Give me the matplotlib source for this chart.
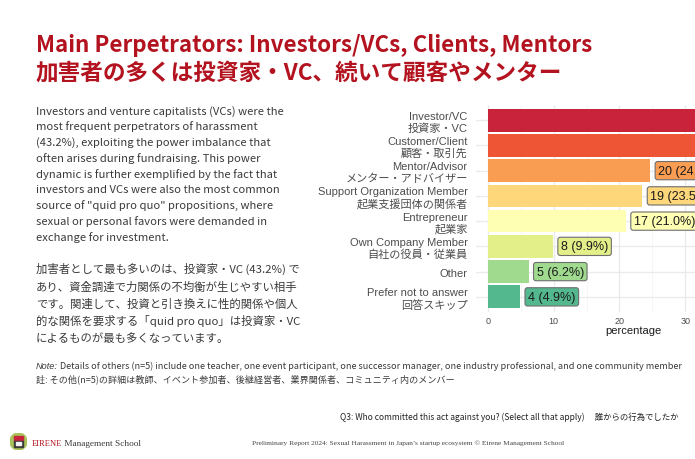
import matplotlib
matplotlib.use("Agg")
import matplotlib.pyplot as plt
from matplotlib.patches import Ellipse, Rectangle

# ---------------- data ----------------
categories = [
    "Investor/VC\n投資家・VC",
    "Customer/Client\n顧客・取引先",
    "Mentor/Advisor\nメンター・アドバイザー",
    "Support Organization Member\n起業支援団体の関係者",
    "Entrepreneur\n起業家",
    "Own Company Member\n自社の役員・従業員",
    "Other",
    "Prefer not to answer\n回答スキップ",
]
counts = [35, 28, 20, 19, 17, 8, 5, 4]
percentages = [43.2, 34.6, 24.7, 23.5, 21.0, 9.9, 6.2, 4.9]
bar_colors = ["#C9233B", "#EE5535", "#F99D52", "#FDD77A", "#FFFFB4",
              "#E3EF88", "#A0DA8F", "#54B88F"]
x_ticks = [0, 10, 20, 30, 40]

title_en = "Main Perpetrators: Investors/VCs, Clients, Mentors"
title_ja = "加害者の多くは投資家・VC、続いて顧客やメンター"
body_en = [
    "Investors and venture capitalists (VCs) were the",
    "most frequent perpetrators of harassment",
    "(43.2%), exploiting the power imbalance that",
    "often arises during fundraising. This power",
    "dynamic is further exemplified by the fact that",
    "investors and VCs were also the most common",
    "source of \"quid pro quo\" propositions, where",
    "sexual or personal favors were demanded in",
    "exchange for investment.",
]
body_ja = [
    "加害者として最も多いのは、投資家・VC (43.2%) で",
    "あり、資金調達で力関係の不均衡が生じやすい相手",
    "です。関連して、投資と引き換えに性的関係や個人",
    "的な関係を要求する「quid pro quo」は投資家・VC",
    "によるものが最も多くなっています。",
]
note_label = "Note:"
note_en = " Details of others (n=5) include one teacher, one event participant, one successor manager, one industry professional, and one community member"
note_ja = "註: その他(n=5)の詳細は教師、イベント参加者、後継経営者、業界関係者、コミュニティ内のメンバー"
question = "Q3: Who committed this act against you? (Select all that apply)\u3000 誰からの行為でしたか"
footer_center = "Preliminary Report 2024: Sexual Harassment in Japan\u2019s startup ecosystem \u00a9 Eirene Management School"

# ---------------- figure ----------------
W, H = 695, 460
fig = plt.figure(figsize=(W / 100, H / 100), dpi=100)
fig.patch.set_facecolor("white")
renderer = fig.canvas.get_renderer()

JP = ["Noto Sans CJK JP", "DejaVu Sans"]
SANS = ["Liberation Sans", "Noto Sans CJK JP", "DejaVu Sans"]


def fx(px):
    return px / W


def fy(py):
    return 1 - py / H


def fit_size(s, width_px, **kw):
    t = fig.text(0, 0, s, fontsize=10, **kw)
    w = t.get_window_extent(renderer).width
    t.remove()
    return 10 * width_px / w


def put(x, y, s, size, **kw):
    return fig.text(fx(x), fy(y), s, fontsize=size, va="baseline", ha="left", **kw)


# title
red = "#B3121F"
s1 = fit_size(title_en, 557, family=JP, weight="bold")
put(36, 52, title_en, s1, family=JP, weight="bold", color=red)
s2 = fit_size(title_ja, 525, family=JP, weight="bold")
put(36, 79.5, title_ja, s2, family=JP, weight="bold", color=red)

# body
body_color = "#3A3A3A"
sb = fit_size(body_en[0], 247, family=JP)
for i, line in enumerate(body_en):
    put(36, 110.7 + 4 + i * 15.75, line, sb, family=JP, color=body_color)
sj = fit_size(body_ja[1], 261, family=JP)
for i, line in enumerate(body_ja):
    put(36, 269 + 4.3 + i * 17.2, line, sj, family=JP, color=body_color)

# note
sn = 6.6
tl = put(36, 369, note_label, sn, family=["Liberation Sans", "DejaVu Sans"],
         style="italic", color=body_color)
wl = tl.get_window_extent(renderer).width
sn2 = fit_size(note_en, 643 - wl, family=JP)
put(36 + wl, 369, note_en, sn2, family=JP, color=body_color)
snj = fit_size(note_ja, 416, family=JP)
put(36, 382.5, note_ja, snj, family=JP, color=body_color)

# question
sq = fit_size(question, 340, family=JP)
put(340, 420.5, question, sq, family=JP, color="#222222")

# footer
SERIF = ["Liberation Serif", "DejaVu Serif"]
fe = fit_size("EIRENE Management School", 112, family=SERIF)
te = put(32, 446, "EIRENE", fe * 0.92, family=SERIF, color="#B3121F")
we = te.get_window_extent(renderer).width
put(32 + we, 446, " Management School", fe, family=SERIF, color="#3A3A3A")
sf = fit_size(footer_center, 311, family=SERIF)
put(252, 445, footer_center, sf, family=SERIF, color="#444444")

# logo
lax = fig.add_axes([fx(10), fy(451), fx(17), 17 / H])
lax.set_xlim(0, 1)
lax.set_ylim(0, 1)
lax.axis("off")
lax.add_patch(Ellipse((0.5, 0.5), 1.0, 1.0, color="#A8C25A"))
lax.add_patch(Rectangle((0.22, 0.55), 0.56, 0.3, color="#C9233B"))
lax.add_patch(Rectangle((0.25, 0.18), 0.5, 0.37, color="#3A3A3A"))
lax.add_patch(Rectangle((0.35, 0.28), 0.3, 0.17, color="#F2F2F2"))

# ---------------- chart ----------------
px_left, px_right, px_top, px_bottom = 476, 791, 106, 313
ax = fig.add_axes([fx(px_left), fy(px_bottom), (px_right - px_left) / W,
                   (px_bottom - px_top) / H])
ax.set_facecolor("white")
ypos = list(range(len(categories)))
ax.barh(ypos, percentages, height=0.9, color=bar_colors, zorder=2)
ax.set_xlim(-1.83, 46.1)
ax.set_ylim(len(categories) - 0.4, -0.6)

for y, c, p, col in zip(ypos, counts, percentages, bar_colors):
    ax.text(p + 1.2, y, f"{c} ({p:.1f}%)", ha="left", va="center",
            fontsize=9, family=SANS, color="#1A1A1A", zorder=4,
            bbox=dict(boxstyle="round,pad=0.25,rounding_size=0.2",
                      fc=col, ec="#6E6E6E", lw=0.8))

ax.set_yticks(ypos)
ax.set_yticklabels(categories, family=SANS, fontsize=8, color="#4D4D4D")
ax.set_xticks(x_ticks)
ax.set_xticklabels([str(v) for v in x_ticks], family=SANS, fontsize=6.5,
                   color="#4D4D4D")
ax.set_xticks([5, 15, 25, 35, 45], minor=True)
ax.tick_params(axis="both", which="both", length=0)
ax.tick_params(axis="y", pad=6)
ax.tick_params(axis="x", pad=3)
ax.grid(True, which="major", color="#EBEBEB", lw=1.0, zorder=0)
ax.grid(True, which="minor", axis="x", color="#F4F4F4", lw=0.6, zorder=0)
for sp in ax.spines.values():
    sp.set_visible(False)
ax.set_axisbelow(True)
ax.set_xlabel("percentage", family=SANS, fontsize=8, color="#1A1A1A")
ax.xaxis.label.set_va("center")
ax.xaxis.set_label_coords(0.5, (px_bottom - 331) / (px_bottom - px_top))

fig.savefig("out.png", dpi=100)
